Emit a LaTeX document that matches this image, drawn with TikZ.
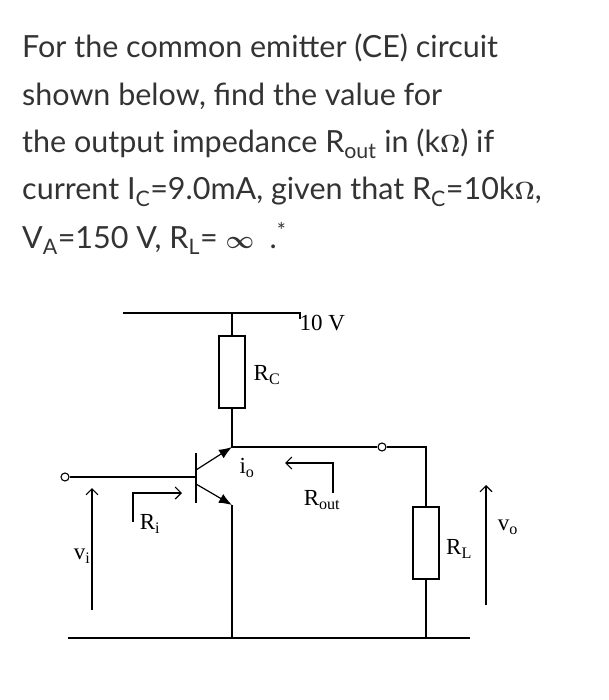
\documentclass[tikz,border=0pt]{standalone}
\usepackage{amsmath,bm}
\usepackage{fontspec}
\setmainfont{Liberation Serif}
\newfontfamily\lato{Lato}
\usetikzlibrary{arrows.meta}
\begin{document}
\begin{tikzpicture}[x=1pt,y=-1pt,
  w/.style={line width=1.2pt},
  res/.style={draw,line width=1.2pt,minimum width=26pt,minimum height=72pt,inner sep=0pt},
  term/.style={circle,draw,line width=1.1pt,fill=white,inner sep=0pt,minimum size=8pt},
  barb/.style={line width=1.1pt,-{Straight Barb[length=6pt,width=12pt]}},
  tip/.style={w,-{Latex[length=13pt,width=10pt]}},
  lbl/.style={font=\fontsize{23}{23}\selectfont},
  q/.style={font=\lato\fontsize{30.5}{30}\selectfont\color{black!80},anchor=base west,inner sep=0pt}]
\useasboundingbox (0,0) rectangle (609,700);
\node[q] (l1) at (22,58) {For the common emitter (CE) circuit};
\node[q] (l2) at (22,106) {shown below, find the value for};
\node[q] (l3) at (22,153) {the output impedance R\textsubscript{out} in (k$\bm\Omega$) if};
\node[q] (l4) at (22,200) {current I\textsubscript{C}=9.0mA, given that R\textsubscript{C}=10k$\bm\Omega$,};
\node[q] (l5) at (22,248) {V\textsubscript{A}=150 V, R\textsubscript{L}= $\bm\infty$\ \ .\textsuperscript{*}};
% coordinates
\coordinate (rl) at (123,313); \coordinate (rr) at (300,313); \coordinate (rt) at (232,313);
\node[res] (RC) at (232,372) {};
\coordinate (cj) at (232,447);
\node[term] (out) at (382,447) {};
\coordinate (cr) at (426,447);
\node[res] (RL) at (426,543) {};
\coordinate (bl) at (68,638); \coordinate (br) at (470,638);
\coordinate (eb) at (232,638); \coordinate (lb) at (426,638);
\node[term] (in) at (65,477) {};
\coordinate (b) at (196,477);
\coordinate (bt) at (196,453); \coordinate (bb) at (196,503);
\coordinate (ce) at (196,470); \coordinate (ee) at (196,484);
\coordinate (et) at (232,505);
\draw[w] (rl) -- (rr) -- ++(0,6);
\draw[w] (rt) -- (RC.north); \draw[w] (RC.south) -- (cj) -- (out) -- (cr) -- (RL.north);
\draw[w] (RL.south) -- (lb); \draw[w] (bl) -- (br);
\draw[w] (in) -- (b); \draw[w] (bt) -- (bb);
\draw[tip] (ce) -- (cj);
\draw[tip] (ee) -- (et);
\draw[w] (et) -- (eb);
\node[lbl,anchor=west] (v10) at (296,323) {10 V};
\node[lbl] (rcl) at (267,375) {R\textsubscript{C}};
\node[lbl] (io) at (247,468) {i\textsubscript{o}};
\node[lbl] (rll) at (459,549) {R\textsubscript{L}};
% arrows
\coordinate (vi1) at (92,610); \coordinate (vi2) at (92,488);
\draw[barb] (vi1) -- (vi2);
\node[lbl] (vil) at (82,556) {v\textsubscript{i}};
\coordinate (ri1) at (133,522); \coordinate (ri2) at (133,493); \coordinate (ri3) at (182,493);
\draw[barb] (ri1) -- (ri2) -- (ri3);
\node[lbl] (ril) at (150,524) {R\textsubscript{i}};
\coordinate (ro1) at (333,493); \coordinate (ro2) at (333,463); \coordinate (ro3) at (285,463);
\draw[barb] (ro1) -- (ro2) -- (ro3);
\node[lbl] (rol) at (322,500) {R\textsubscript{out}};
\coordinate (vo1) at (486,605); \coordinate (vo2) at (486,485);
\draw[barb] (vo1) -- (vo2);
\node[lbl] (vol) at (508,527) {v\textsubscript{o}};
\end{tikzpicture}
\end{document}
